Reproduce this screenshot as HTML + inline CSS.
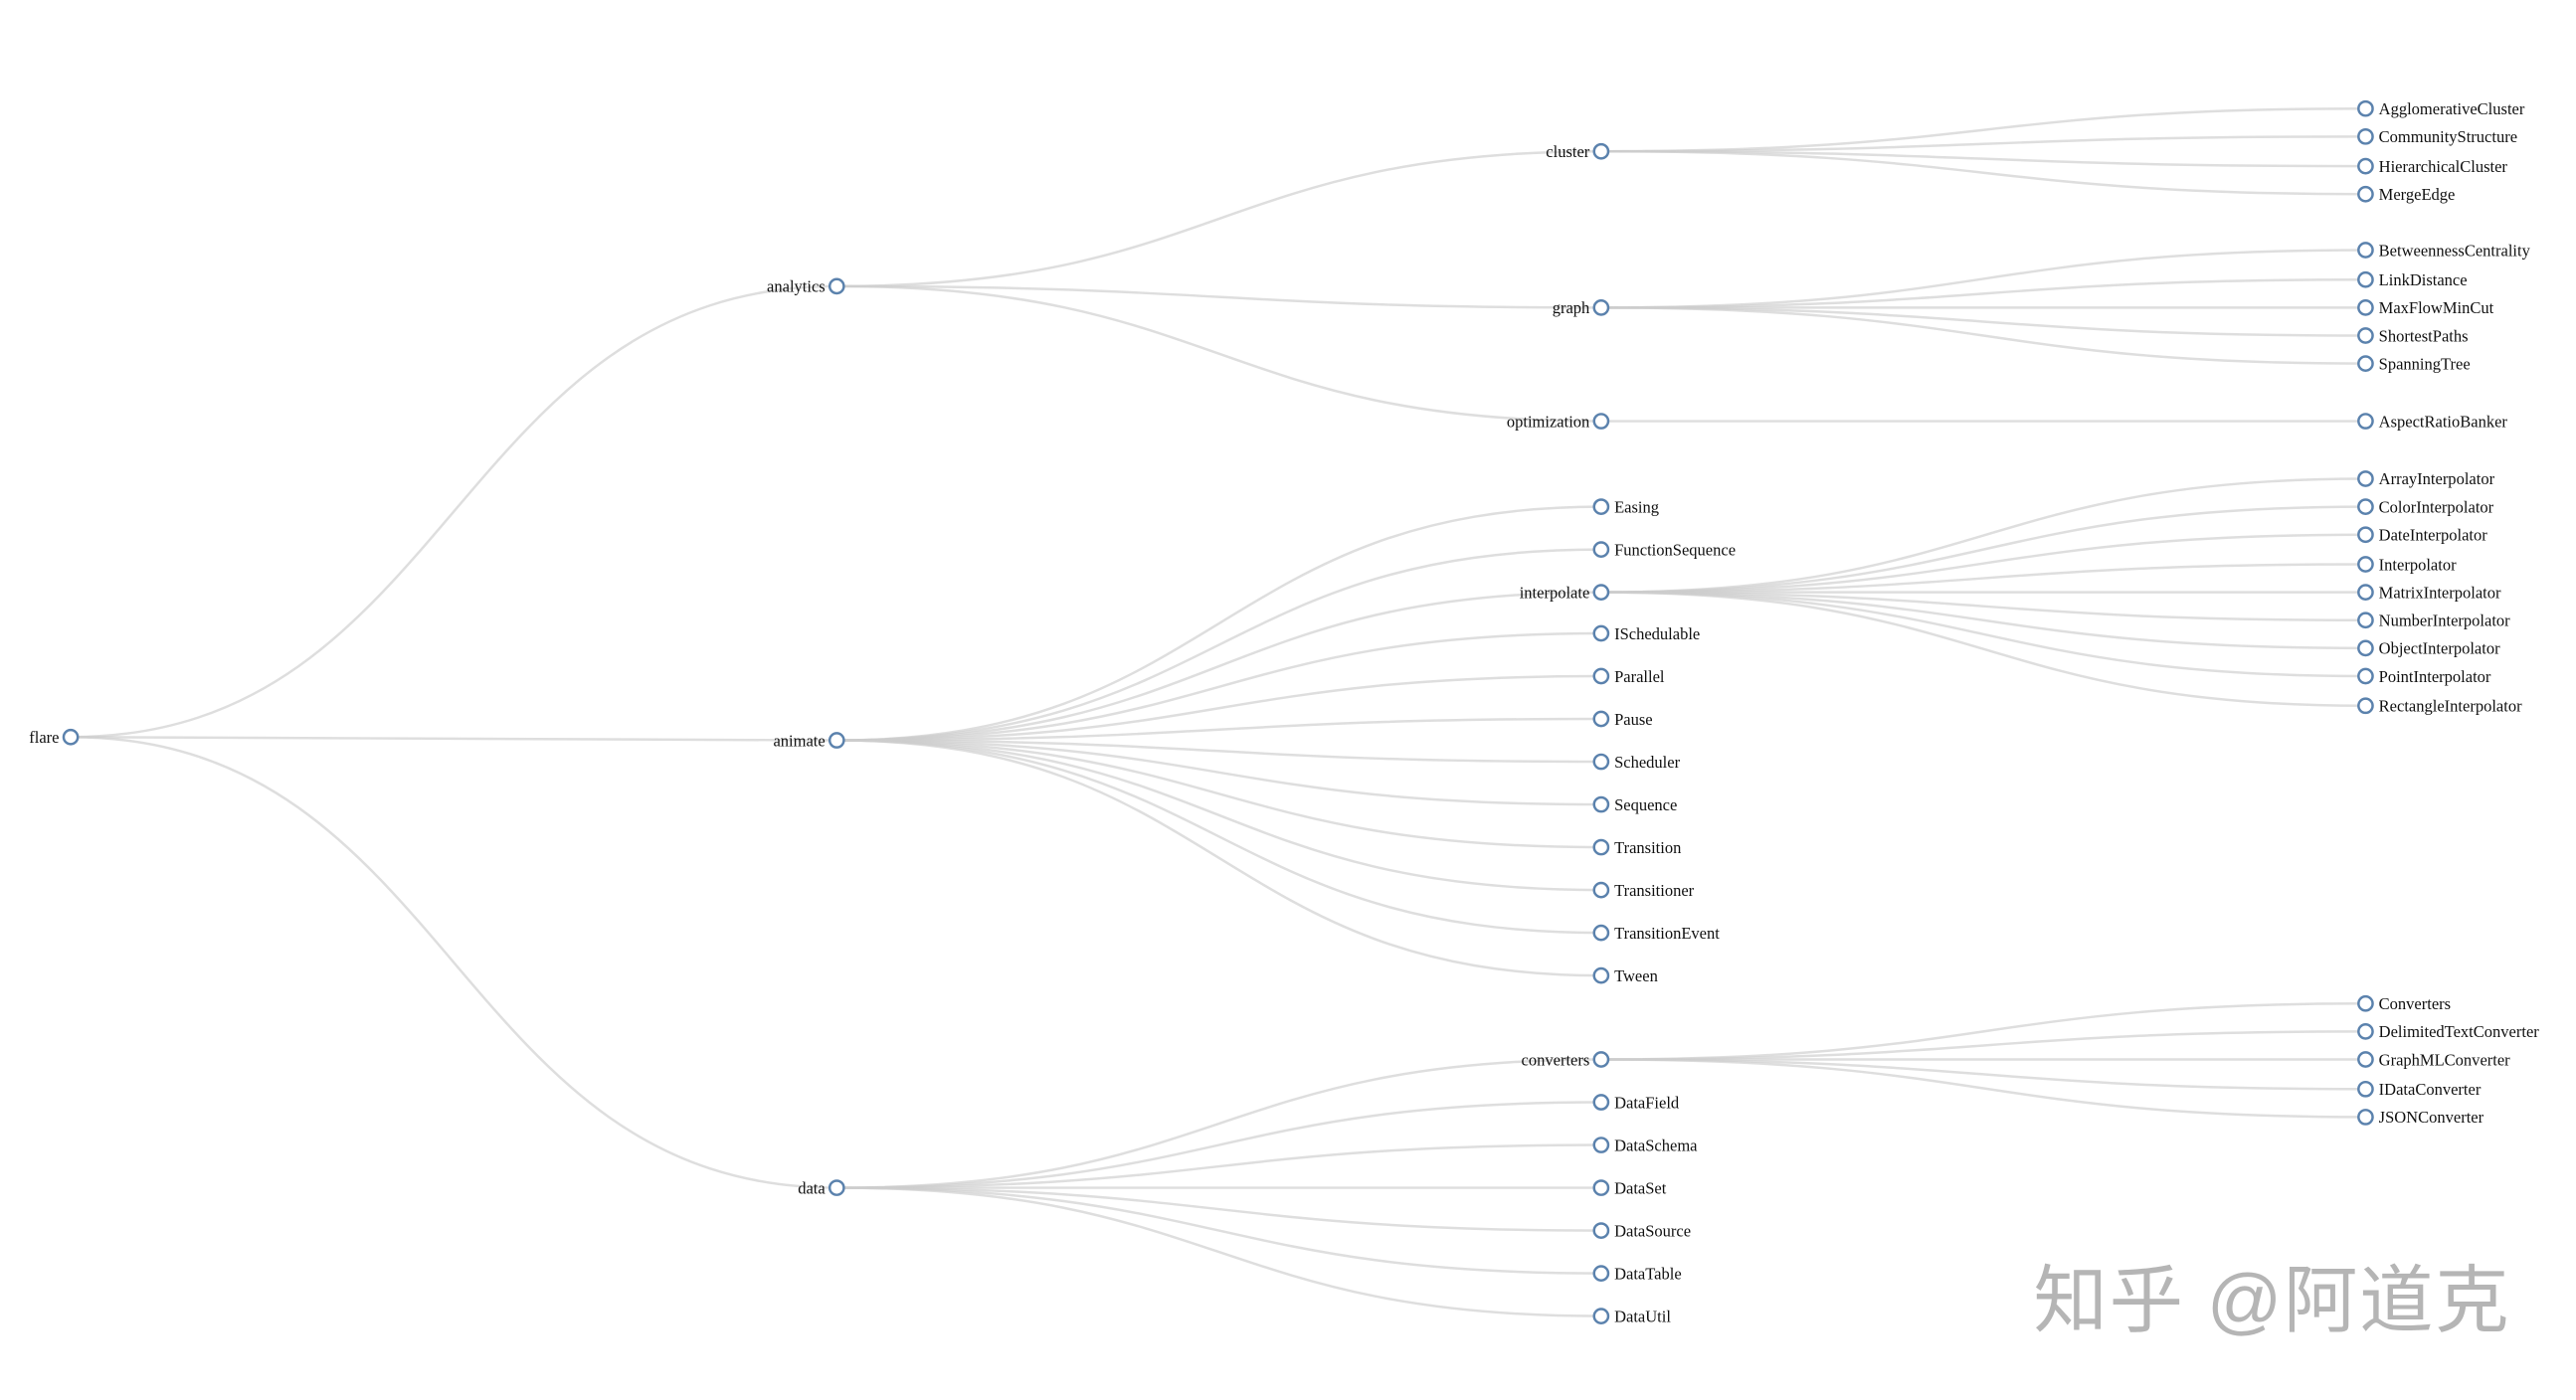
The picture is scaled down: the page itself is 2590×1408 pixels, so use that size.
<!DOCTYPE html>
<html><head><meta charset="utf-8"><style>
html,body{margin:0;padding:0;background:#fff;}
svg{display:block}
.l{fill:none;stroke:#ccc;stroke-opacity:.65;stroke-width:1.5}
circle{fill:#fff;stroke:#5b82ad;stroke-width:1.5}
text{font-family:"Liberation Serif",serif;font-size:10px;fill:#111}
.e{text-anchor:end}
</style></head><body>
<svg width="2590" height="1408" viewBox="0 0 1567 851" preserveAspectRatio="none" xmlns="http://www.w3.org/2000/svg">
<g>
<path class="l" d="M43,448C276,448 276,174 509,174"/>
<path class="l" d="M43,448C276,448 276,450 509,450"/>
<path class="l" d="M43,448C276,448 276,722 509,722"/>

<path class="l" d="M509,174C741.5,174 741.5,92 974,92"/>
<path class="l" d="M509,174C741.5,174 741.5,187 974,187"/>
<path class="l" d="M509,174C741.5,174 741.5,256 974,256"/>

<path class="l" d="M509,450C741.5,450 741.5,308 974,308"/>
<path class="l" d="M509,450C741.5,450 741.5,334 974,334"/>
<path class="l" d="M509,450C741.5,450 741.5,360 974,360"/>
<path class="l" d="M509,450C741.5,450 741.5,385 974,385"/>
<path class="l" d="M509,450C741.5,450 741.5,411 974,411"/>
<path class="l" d="M509,450C741.5,450 741.5,437 974,437"/>
<path class="l" d="M509,450C741.5,450 741.5,463 974,463"/>
<path class="l" d="M509,450C741.5,450 741.5,489 974,489"/>
<path class="l" d="M509,450C741.5,450 741.5,515 974,515"/>
<path class="l" d="M509,450C741.5,450 741.5,541 974,541"/>
<path class="l" d="M509,450C741.5,450 741.5,567 974,567"/>
<path class="l" d="M509,450C741.5,450 741.5,593 974,593"/>

<path class="l" d="M509,722C741.5,722 741.5,644 974,644"/>
<path class="l" d="M509,722C741.5,722 741.5,670 974,670"/>
<path class="l" d="M509,722C741.5,722 741.5,696 974,696"/>
<path class="l" d="M509,722C741.5,722 741.5,722 974,722"/>
<path class="l" d="M509,722C741.5,722 741.5,748 974,748"/>
<path class="l" d="M509,722C741.5,722 741.5,774 974,774"/>
<path class="l" d="M509,722C741.5,722 741.5,800 974,800"/>

<path class="l" d="M974,92C1206.5,92 1206.5,66 1439,66"/>
<path class="l" d="M974,92C1206.5,92 1206.5,83 1439,83"/>
<path class="l" d="M974,92C1206.5,92 1206.5,101 1439,101"/>
<path class="l" d="M974,92C1206.5,92 1206.5,118 1439,118"/>

<path class="l" d="M974,187C1206.5,187 1206.5,152 1439,152"/>
<path class="l" d="M974,187C1206.5,187 1206.5,170 1439,170"/>
<path class="l" d="M974,187C1206.5,187 1206.5,187 1439,187"/>
<path class="l" d="M974,187C1206.5,187 1206.5,204 1439,204"/>
<path class="l" d="M974,187C1206.5,187 1206.5,221 1439,221"/>

<path class="l" d="M974,256C1206.5,256 1206.5,256 1439,256"/>

<path class="l" d="M974,360C1206.5,360 1206.5,291 1439,291"/>
<path class="l" d="M974,360C1206.5,360 1206.5,308 1439,308"/>
<path class="l" d="M974,360C1206.5,360 1206.5,325 1439,325"/>
<path class="l" d="M974,360C1206.5,360 1206.5,343 1439,343"/>
<path class="l" d="M974,360C1206.5,360 1206.5,360 1439,360"/>
<path class="l" d="M974,360C1206.5,360 1206.5,377 1439,377"/>
<path class="l" d="M974,360C1206.5,360 1206.5,394 1439,394"/>
<path class="l" d="M974,360C1206.5,360 1206.5,411 1439,411"/>
<path class="l" d="M974,360C1206.5,360 1206.5,429 1439,429"/>

<path class="l" d="M974,644C1206.5,644 1206.5,610 1439,610"/>
<path class="l" d="M974,644C1206.5,644 1206.5,627 1439,627"/>
<path class="l" d="M974,644C1206.5,644 1206.5,644 1439,644"/>
<path class="l" d="M974,644C1206.5,644 1206.5,662 1439,662"/>
<path class="l" d="M974,644C1206.5,644 1206.5,679 1439,679"/>
</g>

<g>
<circle cx="43" cy="448" r="4.3"/><text class="e" x="36" y="451.5">flare</text>
<circle cx="509" cy="174" r="4.3"/><text class="e" x="502" y="177.5">analytics</text>
<circle cx="509" cy="450" r="4.3"/><text class="e" x="502" y="453.5">animate</text>
<circle cx="509" cy="722" r="4.3"/><text class="e" x="502" y="725.5">data</text>

<circle cx="974" cy="92" r="4.3"/><text class="e" x="967" y="95.5">cluster</text>
<circle cx="974" cy="187" r="4.3"/><text class="e" x="967" y="190.5">graph</text>
<circle cx="974" cy="256" r="4.3"/><text class="e" x="967" y="259.5">optimization</text>
<circle cx="974" cy="360" r="4.3"/><text class="e" x="967" y="363.5">interpolate</text>
<circle cx="974" cy="644" r="4.3"/><text class="e" x="967" y="647.5">converters</text>

<circle cx="974" cy="308" r="4.3"/><text x="982" y="311.5">Easing</text>
<circle cx="974" cy="334" r="4.3"/><text x="982" y="337.5">FunctionSequence</text>
<circle cx="974" cy="385" r="4.3"/><text x="982" y="388.5">ISchedulable</text>
<circle cx="974" cy="411" r="4.3"/><text x="982" y="414.5">Parallel</text>
<circle cx="974" cy="437" r="4.3"/><text x="982" y="440.5">Pause</text>
<circle cx="974" cy="463" r="4.3"/><text x="982" y="466.5">Scheduler</text>
<circle cx="974" cy="489" r="4.3"/><text x="982" y="492.5">Sequence</text>
<circle cx="974" cy="515" r="4.3"/><text x="982" y="518.5">Transition</text>
<circle cx="974" cy="541" r="4.3"/><text x="982" y="544.5">Transitioner</text>
<circle cx="974" cy="567" r="4.3"/><text x="982" y="570.5">TransitionEvent</text>
<circle cx="974" cy="593" r="4.3"/><text x="982" y="596.5">Tween</text>

<circle cx="974" cy="670" r="4.3"/><text x="982" y="673.5">DataField</text>
<circle cx="974" cy="696" r="4.3"/><text x="982" y="699.5">DataSchema</text>
<circle cx="974" cy="722" r="4.3"/><text x="982" y="725.5">DataSet</text>
<circle cx="974" cy="748" r="4.3"/><text x="982" y="751.5">DataSource</text>
<circle cx="974" cy="774" r="4.3"/><text x="982" y="777.5">DataTable</text>
<circle cx="974" cy="800" r="4.3"/><text x="982" y="803.5">DataUtil</text>

<circle cx="1439" cy="66" r="4.3"/><text x="1447" y="69.5">AgglomerativeCluster</text>
<circle cx="1439" cy="83" r="4.3"/><text x="1447" y="86.5">CommunityStructure</text>
<circle cx="1439" cy="101" r="4.3"/><text x="1447" y="104.5">HierarchicalCluster</text>
<circle cx="1439" cy="118" r="4.3"/><text x="1447" y="121.5">MergeEdge</text>
<circle cx="1439" cy="152" r="4.3"/><text x="1447" y="155.5">BetweennessCentrality</text>
<circle cx="1439" cy="170" r="4.3"/><text x="1447" y="173.5">LinkDistance</text>
<circle cx="1439" cy="187" r="4.3"/><text x="1447" y="190.5">MaxFlowMinCut</text>
<circle cx="1439" cy="204" r="4.3"/><text x="1447" y="207.5">ShortestPaths</text>
<circle cx="1439" cy="221" r="4.3"/><text x="1447" y="224.5">SpanningTree</text>
<circle cx="1439" cy="256" r="4.3"/><text x="1447" y="259.5">AspectRatioBanker</text>
<circle cx="1439" cy="291" r="4.3"/><text x="1447" y="294.5">ArrayInterpolator</text>
<circle cx="1439" cy="308" r="4.3"/><text x="1447" y="311.5">ColorInterpolator</text>
<circle cx="1439" cy="325" r="4.3"/><text x="1447" y="328.5">DateInterpolator</text>
<circle cx="1439" cy="343" r="4.3"/><text x="1447" y="346.5">Interpolator</text>
<circle cx="1439" cy="360" r="4.3"/><text x="1447" y="363.5">MatrixInterpolator</text>
<circle cx="1439" cy="377" r="4.3"/><text x="1447" y="380.5">NumberInterpolator</text>
<circle cx="1439" cy="394" r="4.3"/><text x="1447" y="397.5">ObjectInterpolator</text>
<circle cx="1439" cy="411" r="4.3"/><text x="1447" y="414.5">PointInterpolator</text>
<circle cx="1439" cy="429" r="4.3"/><text x="1447" y="432.5">RectangleInterpolator</text>
<circle cx="1439" cy="610" r="4.3"/><text x="1447" y="613.5">Converters</text>
<circle cx="1439" cy="627" r="4.3"/><text x="1447" y="630.5">DelimitedTextConverter</text>
<circle cx="1439" cy="644" r="4.3"/><text x="1447" y="647.5">GraphMLConverter</text>
<circle cx="1439" cy="662" r="4.3"/><text x="1447" y="665.5">IDataConverter</text>
<circle cx="1439" cy="679" r="4.3"/><text x="1447" y="682.5">JSONConverter</text>
</g>
<text x="1237" y="806" style="font-family:'Liberation Sans','Noto Sans CJK SC',sans-serif;font-size:45px;fill:#b5b5b5;letter-spacing:1px">知乎 @阿道克</text>
</svg>
</body></html>
